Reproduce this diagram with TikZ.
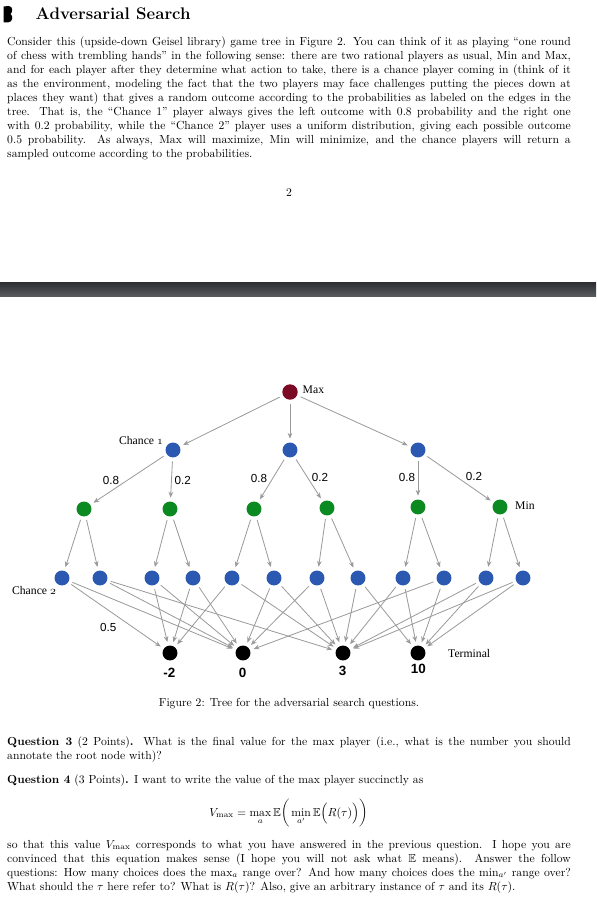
\documentclass[tikz,border=0pt]{standalone}
\usepackage{amssymb}
\usepackage{fontspec}
\newfontfamily\figserif{Liberation Serif}
\newfontfamily\figsans{Liberation Sans}
\usetikzlibrary{arrows.meta}
\definecolor{maxred}{HTML}{7B0A25}
\definecolor{cblue}{HTML}{2B58B0}
\definecolor{mgreen}{HTML}{0B8A22}
\definecolor{egray}{HTML}{9A9A9A}
\definecolor{bartop}{HTML}{2E3033}
\definecolor{barbot}{HTML}{585B5E}
\begin{document}
\begin{tikzpicture}[x=0.857pt,y=-0.857pt,
  every node/.style={inner sep=0pt},
  body/.style={anchor=base west,font=\fontsize{10}{12}\selectfont},
  dot/.style={circle,minimum size=12.8pt,inner sep=0pt,outer sep=3.3pt},
  maxn/.style={dot,fill=maxred,minimum size=13.2pt},
  chn/.style={dot,fill=cblue},
  minn/.style={dot,fill=mgreen},
  termn/.style={dot,fill=black},
  edge/.style={draw=egray,line width=0.7pt,-{Stealth[length=5pt,width=4pt]}},
  lbl/.style={font=\figserif\fontsize{10}{12}\selectfont},
  prob/.style={font=\figsans\fontsize{10}{12}\selectfont},
  val/.style={font=\figsans\bfseries\fontsize{11.5}{14}\selectfont}
]
\useasboundingbox (0,0) rectangle (596,908);

% section heading
\fill (3.5,6.5) -- (9,6) .. controls (13,6.5) and (13,12) .. (10.5,14) .. controls (13.5,16) and (13,22) .. (8,22.5) -- (3.5,22.5) -- cycle;
\node[anchor=base west,font=\Large\bfseries] (title) at (35.5,19.5) {Adversarial Search};

\node[body] (intro) at (7,45.5) {\parbox[t]{483pt}{\noindent Consider this (upside-down Geisel library) game tree in Figure 2. You can think of it as playing ``one round\linebreak
of chess with trembling hands'' in the following sense: there are two rational players as usual, Min and Max,\linebreak
and for each player after they determine what action to take, there is a chance player coming in (think of it\linebreak
as the environment, modeling the fact that the two players may face challenges putting the pieces down at\linebreak
places they want) that gives a random outcome according to the probabilities as labeled on the edges in the\linebreak
tree. That is, the ``Chance 1'' player always gives the left outcome with 0.8 probability and the right one\linebreak
with 0.2 probability, while the ``Chance 2'' player uses a uniform distribution, giving each possible outcome\linebreak
0.5 probability. As always, Max will maximize, Min will minimize, and the chance players will return a\linebreak
sampled outcome according to the probabilities.}};

\node[body,anchor=base] (pagenum) at (289,197) {2};

% gray bar
\shade[top color=bartop,bottom color=barbot] (0,282.7) rectangle (596,296);

% tree nodes
\node[maxn] (mx) at (290,392) {};
\node[chn] (ca) at (173,450) {};
\node[chn] (cb) at (290,450) {};
\node[chn] (cc) at (418,450) {};
\node[minn] (m1) at (84,509) {};
\node[minn] (m2) at (170,509) {};
\node[minn] (m3) at (254,509) {};
\node[minn] (m4) at (327,508) {};
\node[minn] (m5) at (418,507) {};
\node[minn] (m6) at (500,507) {};
\foreach \i/\x in {1/62,2/100,3/152,4/193,5/232,6/274,7/317,8/358,9/403,10/444,11/486,12/523}
  \node[chn] (d\i) at (\x,578) {};
\node[termn] (t1) at (170,653) {};
\node[termn] (t2) at (243,653) {};
\node[termn] (t3) at (343,653) {};
\node[termn] (t4) at (418,653) {};

% labels
\node[lbl,anchor=west] (lmax) at (302.5,390) {Max};
\node[lbl] (lch1) at (141,441) {Chance \legacyoldstylenums{1}};
\node[lbl,anchor=west] (lmin) at (515,506) {Min};
\node[lbl] (lch2) at (34,590.5) {Chance \legacyoldstylenums{2}};
\node[lbl,anchor=west] (lterm) at (448,654) {Terminal};
\node[prob] (p1) at (111,480) {0.8};
\node[prob] (p2) at (182.7,480) {0.2};
\node[prob] (p3) at (259,478) {0.8};
\node[prob] (p4) at (320,477) {0.2};
\node[prob] (p5) at (407,477) {0.8};
\node[prob] (p6) at (474,476) {0.2};
\node[prob] (p7) at (108.3,627.3) {0.5};
\node[val] (v1) at (169.3,672.7) {-2};
\node[val] (v2) at (242.7,672.7) {0};
\node[val] (v3) at (342.7,670.7) {3};
\node[val] (v4) at (418.3,669.3) {10};

% edges
\foreach \a/\b in {mx/ca,mx/cb,mx/cc,ca/m1,ca/m2,cb/m3,cb/m4,cc/m5,cc/m6,
  m1/d1,m1/d2,m2/d3,m2/d4,m3/d5,m3/d6,m4/d7,m4/d8,m5/d9,m5/d10,m6/d11,m6/d12,
  d1/t1,d1/t2,d2/t2,d2/t3,d3/t1,d3/t2,d4/t1,d4/t2,d5/t1,d5/t3,d6/t2,d6/t3,
  d7/t2,d7/t3,d8/t3,d8/t4,d9/t3,d9/t4,d10/t2,d10/t4,d11/t3,d11/t4,d12/t3,d12/t4}
  \draw[edge] (\a) -- (\b);

\node[body,anchor=base] (cap) at (289,706) {Figure 2: Tree for the adversarial search questions.};

% questions
\node[body] (q3) at (7,745.5) {\parbox[t]{483pt}{\noindent\textbf{Question 3} (2 Points)\textbf{.} What is the final value for the max player (i.e., what is the number you should\linebreak
annotate the root node with)?}};
\node[body] (q4) at (7,783.5) {\parbox[t]{483pt}{\noindent\textbf{Question 4} (3 Points)\textbf{.} I want to write the value of the max player succinctly as}};
\node[anchor=base,font=\fontsize{10}{12}\selectfont] (eq) at (288.5,816) {$\displaystyle V_{\max}=\max_a\mathbb{E}\biggl(\,\min_{a'}\mathbb{E}\Bigl(R(\tau)\Bigr)\biggr)$};
\node[body] (after) at (7,848) {\parbox[t]{483pt}{\noindent so that this value $V_{\max}$ corresponds to what you have answered in the previous question. I hope you are\linebreak
convinced that this equation makes sense (I hope you will not ask what $\mathbb{E}$ means). Answer the follow\linebreak
questions: How many choices does the $\max_a$ range over? And how many choices does the $\min_{a'}$ range over?\linebreak
What should the $\tau$ here refer to? What is $R(\tau)$? Also, give an arbitrary instance of $\tau$ and its $R(\tau)$.}};
\end{tikzpicture}
\end{document}
